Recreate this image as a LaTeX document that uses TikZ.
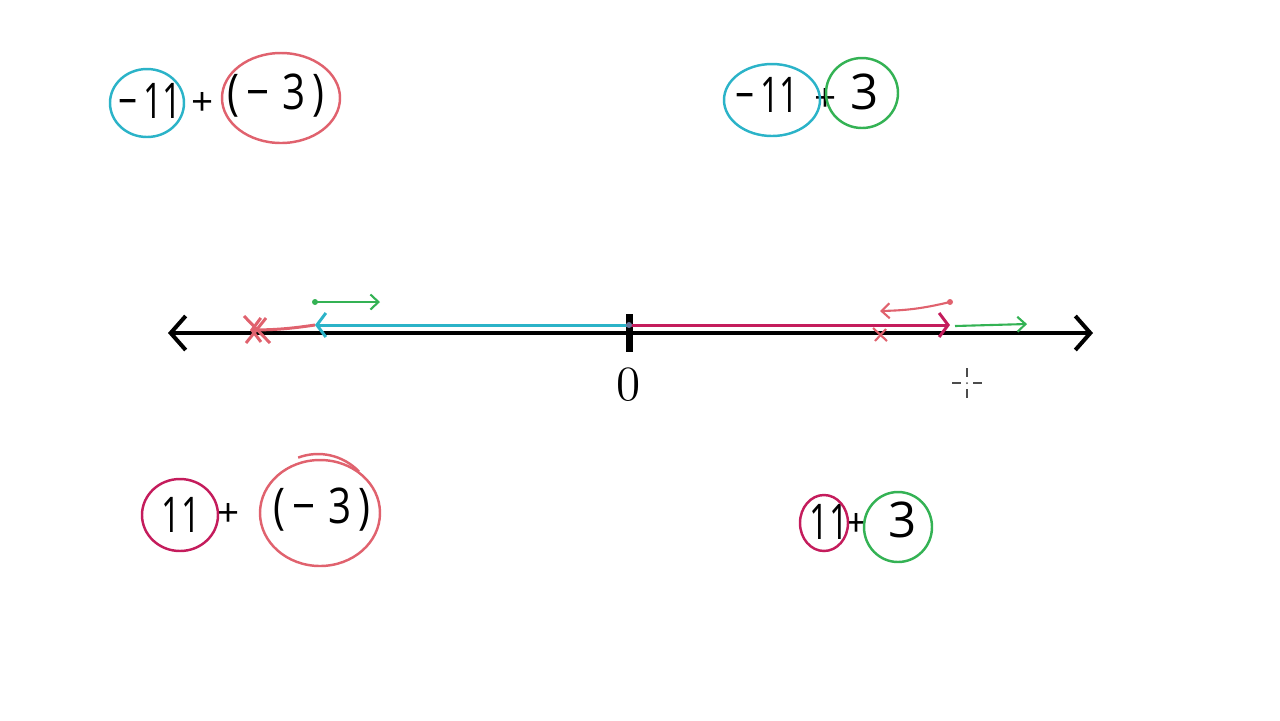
\documentclass[tikz,border=0pt]{standalone}
\usepackage{fontspec}
\newfontfamily\handfont{Open Sans}
\usetikzlibrary{arrows.meta}
\definecolor{numcyan}{RGB}{43,179,200}
\definecolor{numred}{RGB}{224,98,110}
\definecolor{numplum}{RGB}{196,28,92}
\definecolor{numgreen}{RGB}{52,178,84}
\newcommand{\thin}[1]{\scalebox{0.68}[1]{#1}}
\newcommand{\paren}[1]{\scalebox{0.82}[1]{#1}}

\begin{document}
\begin{tikzpicture}[x=0.1mm,y=-0.1mm,
  term/.style={font=\handfont\fontsize{14}{16}\selectfont, inner sep=0pt},
  plus/.style={font=\handfont\fontsize{11}{13}\selectfont, inner sep=0pt},
  ring/.style={draw=#1, line width=0.7pt},
  jump/.style={draw=#1, line width=0.85pt, -{Straight Barb[length=0.9mm,width=2.4mm]}},
  hint/.style={draw=#1, line width=0.6pt, -{Straight Barb[length=0.8mm,width=1.5mm]}}]

  \useasboundingbox (0,0) rectangle (1280,720);

  % -11 + (-3)
  \node[term] (a1) at (150,101) {\thin{−\,11}};
  \node[plus] (p1) at (203,104) {+};
  \node[term] (b1) at (276,96) {\paren{(\,−\,\,3\,)}};
  \draw[ring=numcyan] (147,103) ellipse [x radius=37, y radius=34];
  \draw[ring=numred] (281,98) ellipse [x radius=59, y radius=45];

  % -11 + 3
  \node[term] (a2) at (767,95) {\thin{−\,11}};
  \node[plus] (p2) at (826,100) {+};
  \node[term] (b2) at (865,92) {3};
  \draw[ring=numcyan] (772,100) ellipse [x radius=48, y radius=36];
  \draw[ring=numgreen] (862,93) ellipse [x radius=36, y radius=35];

  % 11 + (-3)
  \node[term] (a3) at (181,515) {\thin{11}};
  \node[plus] (p3) at (229,515) {+};
  \node[term] (b3) at (322,510) {\paren{(\,−\,\,3\,)}};
  \draw[ring=numplum] (180,515) ellipse [x radius=38, y radius=36];
  \draw[ring=numred] (320,513) ellipse [x radius=60, y radius=53];
  \draw[ring=numred] (318,514) ++(-110:58 and 60) arc[start angle=-110, end angle=-45, x radius=58, y radius=60];

  % 11 + 3
  \node[term] (a4) at (829,522) {\thin{11}};
  \node[plus] (p4) at (857,525) {+};
  \node[term] (b4) at (903,520) {3};
  \draw[ring=numplum] (824,523) ellipse [x radius=24, y radius=28];
  \draw[ring=numgreen] (898,527) ellipse [x radius=34, y radius=35];

  % number line
  \coordinate (lend) at (168,333);
  \coordinate (rend) at (1093,333);
  \draw[line width=0.4mm, {Straight Barb[length=1.5mm,width=3.4mm]}-{Straight Barb[length=1.5mm,width=3.4mm]}] (lend) -- (rend);
  \node[fill=black, minimum width=0.7mm, minimum height=3.8mm, inner sep=0pt] (zero) at (629,333) {};
  \node[font=\fontsize{14}{16}\selectfont] (zerolabel) at (629,385) {0};

  \coordinate (orig) at (629,325);
  \coordinate (negeleven) at (315,325);
  \coordinate (poseleven) at (950,325);
  \draw[jump=numcyan] (orig) -- (negeleven);
  \draw[jump=numplum] (orig) -- (poseleven);
  \fill[numcyan!60!numplum] (orig) circle (3);

  % left side moves
  \coordinate (negfourteen) at (250,330);
  \draw[jump=numred] (negeleven) to[bend left=4] (negfourteen);
  \draw[numred, line width=0.85pt] (244,316) -- (270,343) (246,343) -- (266,318);
  \coordinate (gstartl) at (315,302);
  \coordinate (gendl) at (380,302);
  \draw[hint=numgreen] (gstartl) -- (gendl);
  \fill[numgreen] (gstartl) circle (3);

  % right side moves
  \coordinate (rstart) at (950,302);
  \coordinate (rendr) at (880,311);
  \draw[hint=numred] (rstart) to[bend left=6] (rendr);
  \fill[numred] (rstart) circle (3);
  \draw[numred, line width=0.6pt] (873,328) -- (887,341) (875,341) -- (886,329);
  \coordinate (gstartr) at (955,326);
  \coordinate (gendr) at (1027,324);
  \draw[hint=numgreen] (gstartr) -- (gendr);

  % cursor
  \draw[black!70, line width=0.5pt] (952,383) -- (961,383) (973,383) -- (982,383)
    (967,368) -- (967,377) (967,389) -- (967,398);
  \fill[black!70] (967,383) circle (1);
\end{tikzpicture}
\end{document}
